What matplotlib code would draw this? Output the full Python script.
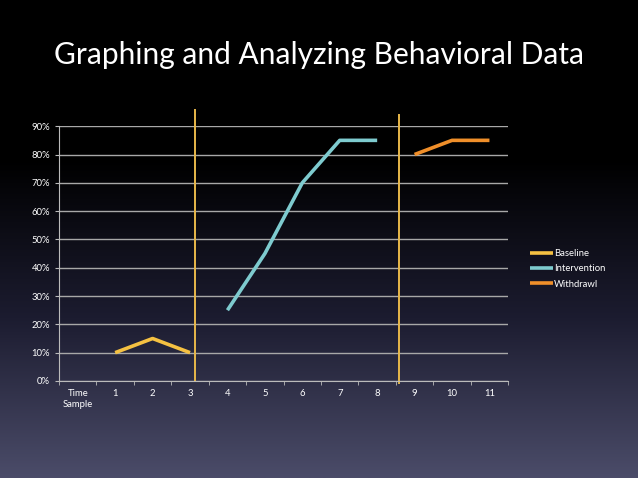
import numpy as np
import matplotlib
matplotlib.use('Agg')
import matplotlib.pyplot as plt
from matplotlib.colors import LinearSegmentedColormap

# categorias del eje x
categorias = ["Time\nSample", "1", "2", "3", "4", "5", "6", "7", "8", "9", "10", "11"]

# series (posicion de categoria, valor)
baseline_x = [1, 2, 3]
baseline_y = [0.10, 0.15, 0.10]
intervencion_x = [4, 5, 6, 7, 8]
intervencion_y = [0.25, 0.45, 0.70, 0.85, 0.85]
retiro_x = [9, 10, 11]
retiro_y = [0.80, 0.85, 0.85]

# lineas de cambio de fase (posicion en el eje de categorias)
cambios_fase = [3.13, 8.59]

y_ticks = [0, 0.1, 0.2, 0.3, 0.4, 0.5, 0.6, 0.7, 0.8, 0.9]

plt.rcParams['font.family'] = ['Lato', 'DejaVu Sans']

fig = plt.figure(figsize=(6.38, 4.78), dpi=100)

# fondo degradado
bg = fig.add_axes([0, 0, 1, 1], zorder=-10)
cmap = LinearSegmentedColormap.from_list("fondo", ["#000000", "#000000", "#1c1c30", "#4b4c69"])
grad = np.linspace(0, 1, 256).reshape(-1, 1)
bg.imshow(grad, aspect='auto', cmap=cmap, extent=[0, 1, 1, 0])
bg.axis('off')

fig.text(0.5, 0.885, "Graphing and Analyzing Behavioral Data", color="white",
         fontsize=21.5, ha="center", va="center")

ax = fig.add_axes([0.0925, 0.203, 0.704, 0.533])
ax.set_facecolor("none")

ax.plot(baseline_x, baseline_y, color="#f5c142", lw=2.6, label="Baseline", solid_capstyle="butt")
ax.plot(intervencion_x, intervencion_y, color="#7ecbcf", lw=2.6, label="Intervention", solid_capstyle="butt")
ax.plot(retiro_x, retiro_y, color="#f08f2a", lw=2.6, label="Withdrawl", solid_capstyle="butt")

ax.plot([cambios_fase[0]] * 2, [0, 0.957], color="#e8b84a", lw=1.4, clip_on=False)
ax.plot([cambios_fase[1]] * 2, [-0.007, 0.939], color="#e8b84a", lw=1.4, clip_on=False)

ax.set_xlim(-0.5, 11.5)
ax.set_ylim(0, 0.9)
ax.set_yticks(y_ticks)
ax.set_yticklabels([f"{int(round(v * 100))}%" for v in y_ticks])
ax.yaxis.grid(True, color="#a8a8a8", lw=1)
ax.set_axisbelow(True)

ax.set_xticks(range(len(categorias)))
ax.set_xticklabels(categorias)
ax.set_xticks(np.arange(-0.5, 12, 1), minor=True)
ax.tick_params(axis="x", which="major", length=0, pad=6, colors="white", labelsize=6.8)
ax.tick_params(axis="x", which="minor", length=3, color="#bbbbbb", direction="out")
ax.tick_params(axis="y", length=3, color="#bbbbbb", colors="white", labelsize=6.8)
for lbl in ax.get_xticklabels():
    lbl.set_va("top")

for lado in ["top", "right"]:
    ax.spines[lado].set_visible(False)
for lado in ["left", "bottom"]:
    ax.spines[lado].set_color("#bbbbbb")

leg = ax.legend(loc="center left", bbox_to_anchor=(1.03, 0.44), frameon=False,
                fontsize=6.8, handlelength=2.4, handletextpad=0.1, labelspacing=0.65)
for t in leg.get_texts():
    t.set_color("white")

fig.savefig("out.png", dpi=100)
